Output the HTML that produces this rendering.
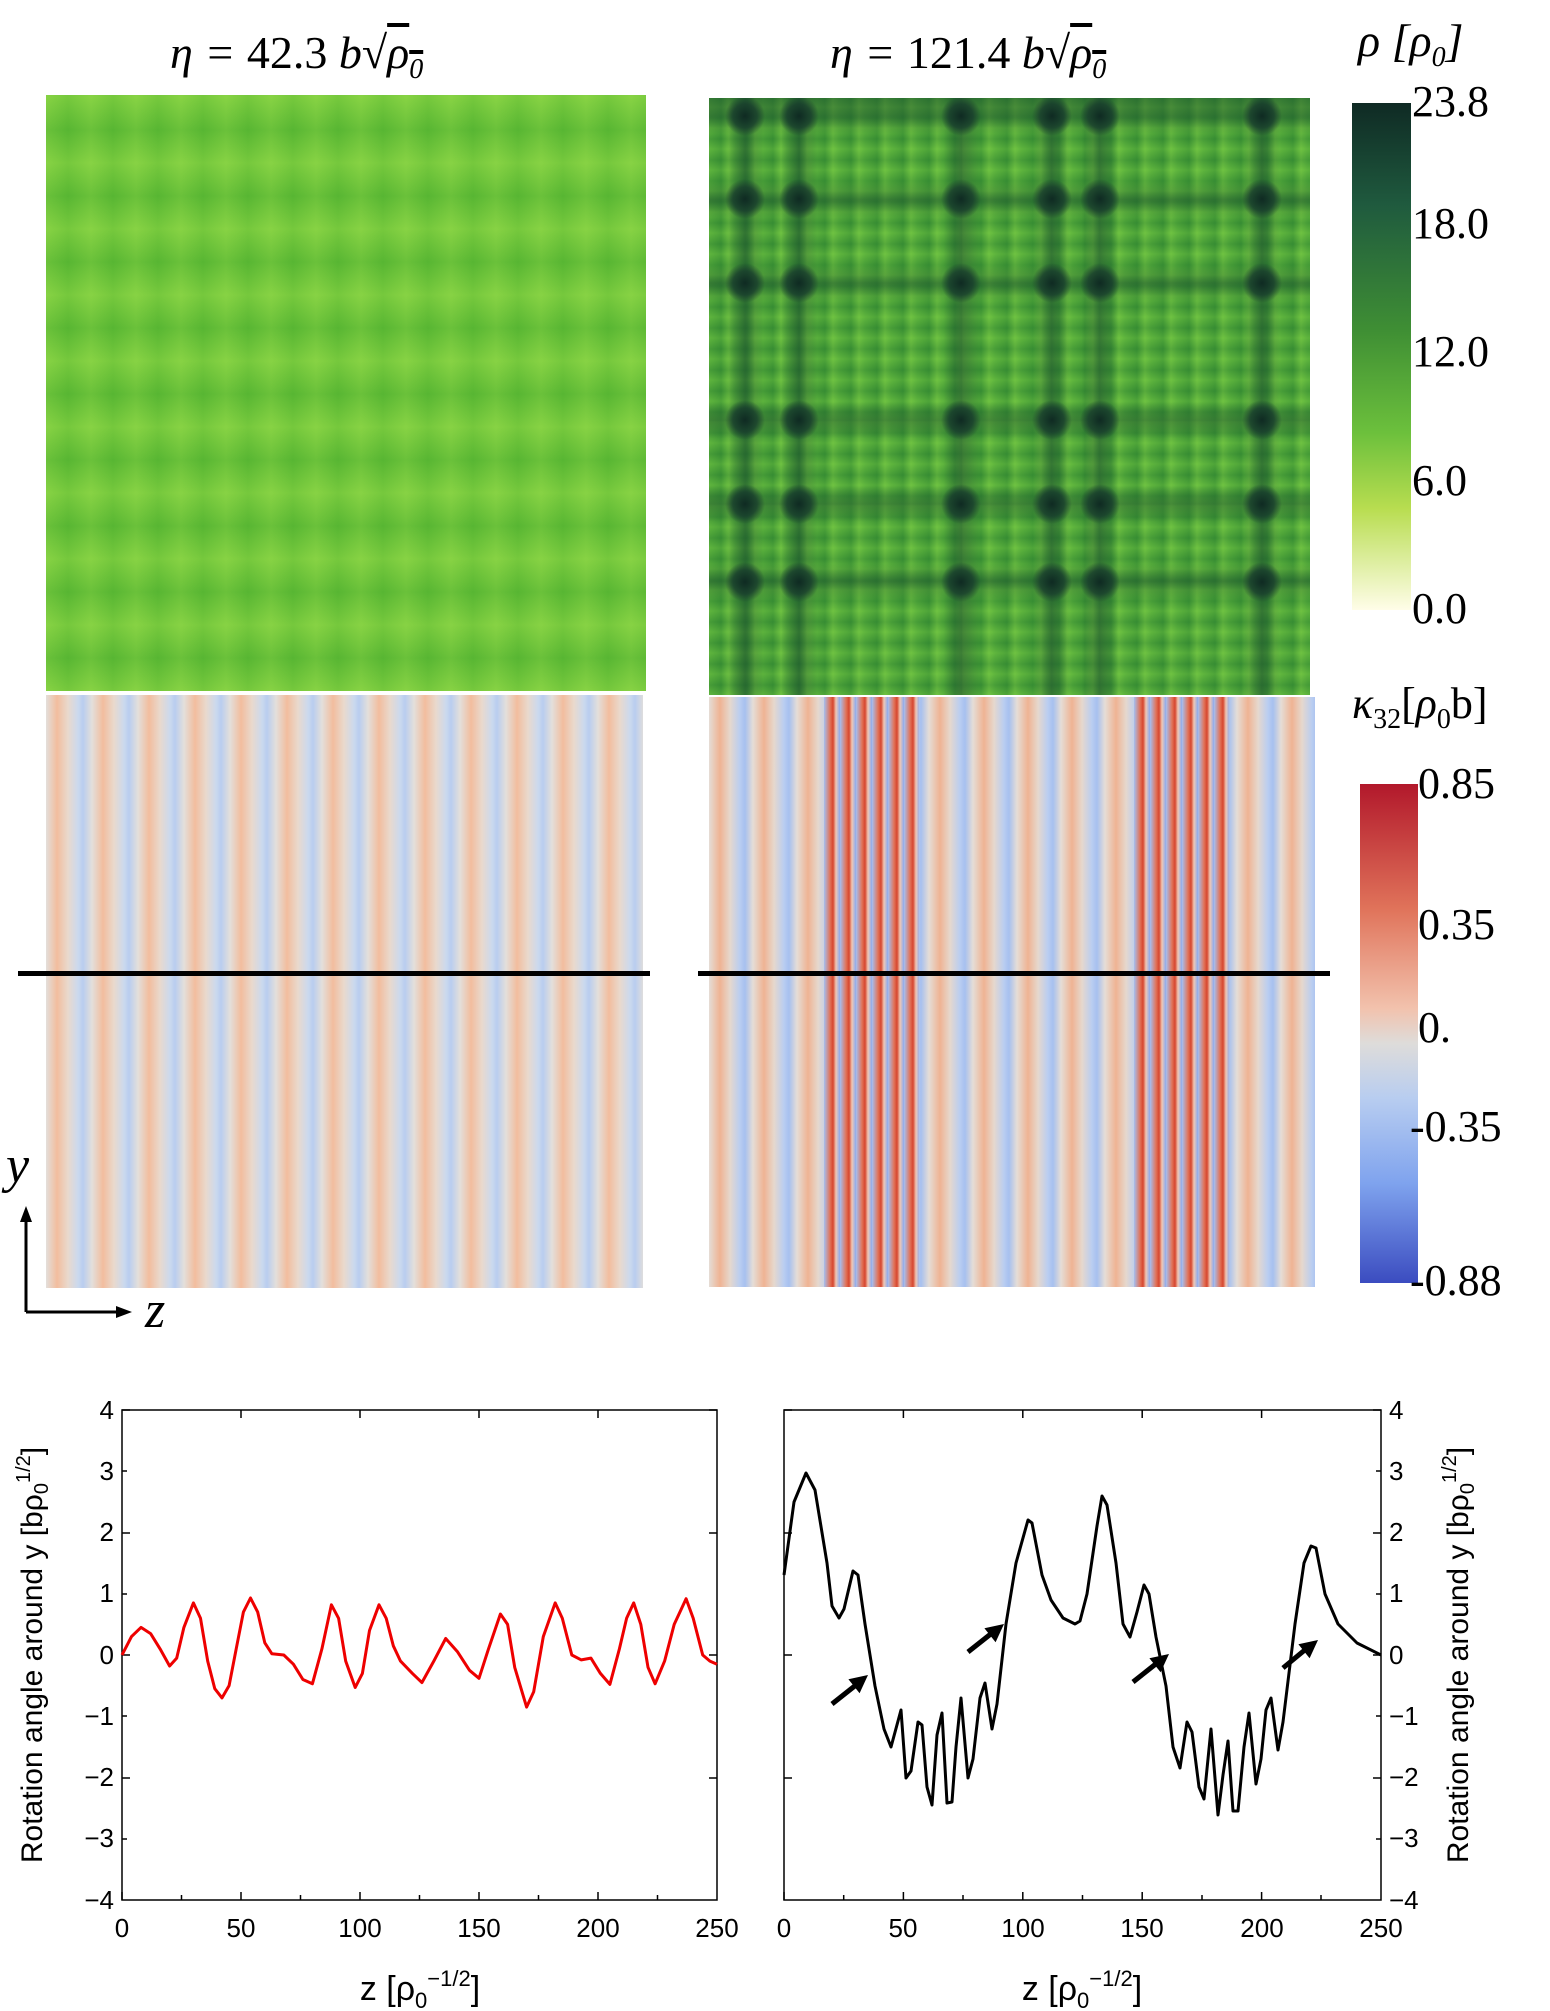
<!DOCTYPE html>
<html><head><meta charset="utf-8"><style>
body{margin:0;width:1550px;height:2011px;background:#fff;position:relative;overflow:hidden;font-family:"Liberation Serif",serif}
.a{position:absolute}
.t{position:absolute;font-size:44px;line-height:1;white-space:nowrap}
</style></head><body>
<div class="t" style="left:170px;top:30px;font-style:italic;font-size:46px">η = <span style="font-style:normal">42.3</span> b√<span style="text-decoration:overline">ρ<sub style="font-size:28px">0</sub></span></div>
<div class="t" style="left:830px;top:30px;font-style:italic;font-size:46px">η = <span style="font-style:normal">121.4</span> b√<span style="text-decoration:overline">ρ<sub style="font-size:28px">0</sub></span></div>

<!-- left density -->
<div class="a" style="left:46px;top:95px;width:600px;height:596px;background:repeating-linear-gradient(90deg,#7acb40 0,#5fbb35 22px,#7acb40 45px);"></div>
<div class="a" style="left:46px;top:95px;width:600px;height:596px;background:repeating-linear-gradient(0deg,rgba(160,225,75,.35) 0,rgba(70,170,45,.3) 33px,rgba(160,225,75,.35) 66px);"></div>

<!-- right density -->
<div class="a" style="left:709px;top:98px;width:601px;height:597px;background:repeating-linear-gradient(90deg,#55ad3a 0,#3c9533 12px,#6cc040 20px,#55ad3a 26px);overflow:hidden">
<div class="a" style="left:0;top:0;width:601px;height:597px;background:repeating-linear-gradient(0deg,rgba(120,200,70,.3) 0,rgba(40,120,50,.3) 10px,rgba(120,200,70,.3) 21px)"></div>
<div class="a" style="left:0;top:0;width:601px;height:597px;background:linear-gradient(90deg,transparent 3%,rgba(25,75,45,.55) 6%,transparent 9%,transparent 12%,rgba(25,75,45,.55) 15%,transparent 18%,transparent 39%,rgba(25,75,45,.55) 42%,transparent 45%,transparent 54%,rgba(25,75,45,.55) 57%,transparent 60%,transparent 62%,rgba(25,75,45,.55) 65%,transparent 68%,transparent 89%,rgba(25,75,45,.55) 92%,transparent 95%)"></div>
<div class="a" style="left:0;top:0;width:601px;height:597px;background:linear-gradient(180deg,rgba(25,75,45,.45) 3%,transparent 6%,transparent 14%,rgba(25,75,45,.45) 17%,transparent 20%,transparent 28%,rgba(25,75,45,.45) 31%,transparent 34%,transparent 51%,rgba(25,75,45,.45) 54%,transparent 57%,transparent 65%,rgba(25,75,45,.45) 68%,transparent 71%,transparent 78%,rgba(25,75,45,.45) 81%,transparent 84%)"></div>
<svg class="a" style="left:0;top:0" width="601" height="597"><defs><radialGradient id="d"><stop offset="0" stop-color="#0f2a22"/><stop offset=".6" stop-color="#173b2c" stop-opacity=".8"/><stop offset="1" stop-color="#173b2c" stop-opacity="0"/></radialGradient></defs>
<g fill="url(#d)">
<circle cx="36" cy="18" r="20"/><circle cx="90" cy="18" r="20"/><circle cx="252" cy="18" r="20"/><circle cx="343" cy="18" r="20"/><circle cx="391" cy="18" r="20"/><circle cx="553" cy="18" r="20"/>
<circle cx="36" cy="101" r="20"/><circle cx="90" cy="101" r="20"/><circle cx="252" cy="101" r="20"/><circle cx="343" cy="101" r="20"/><circle cx="391" cy="101" r="20"/><circle cx="553" cy="101" r="20"/>
<circle cx="36" cy="185" r="20"/><circle cx="90" cy="185" r="20"/><circle cx="252" cy="185" r="20"/><circle cx="343" cy="185" r="20"/><circle cx="391" cy="185" r="20"/><circle cx="553" cy="185" r="20"/>
<circle cx="36" cy="322" r="20"/><circle cx="90" cy="322" r="20"/><circle cx="252" cy="322" r="20"/><circle cx="343" cy="322" r="20"/><circle cx="391" cy="322" r="20"/><circle cx="553" cy="322" r="20"/>
<circle cx="36" cy="406" r="20"/><circle cx="90" cy="406" r="20"/><circle cx="252" cy="406" r="20"/><circle cx="343" cy="406" r="20"/><circle cx="391" cy="406" r="20"/><circle cx="553" cy="406" r="20"/>
<circle cx="36" cy="484" r="20"/><circle cx="90" cy="484" r="20"/><circle cx="252" cy="484" r="20"/><circle cx="343" cy="484" r="20"/><circle cx="391" cy="484" r="20"/><circle cx="553" cy="484" r="20"/>
</g></svg>
</div>

<!-- left kappa -->
<div class="a" style="left:46px;top:695px;width:597px;height:593px;background:repeating-linear-gradient(90deg,#e3dfdb 0,#f2bd9e 11px,#e9d9cd 22px,#cbd9ee 32px,#b9cdef 37px,#e3dfdb 46px)"></div>
<!-- right kappa -->
<div class="a" style="left:709px;top:697px;width:606px;height:590px;background:repeating-linear-gradient(90deg,#e5ddd6 0,#efb393 11px,#e6d8cd 21px,#b9cdf1 31px,#a7c0ef 36px,#e5ddd6 44px)">
<div class="a" style="left:115px;top:0;width:95px;height:590px;background:repeating-linear-gradient(90deg,#a5bef0 0,#e1745a 6px,#d6452e 9px,#f0c8b4 12px,#8aaaf0 16px)"></div>
<div class="a" style="left:425px;top:0;width:95px;height:590px;background:repeating-linear-gradient(90deg,#a5bef0 0,#e1745a 6px,#d6452e 9px,#f0c8b4 12px,#8aaaf0 16px)"></div>
</div>
<div class="a" style="left:18px;top:971px;width:632px;height:5px;background:#000"></div>
<div class="a" style="left:698px;top:971px;width:632px;height:5px;background:#000"></div>

<!-- colorbars -->
<div class="t" style="left:1358px;top:18px;font-style:italic;font-size:46px">ρ [ρ<sub style="font-size:28px">0</sub>]</div>
<div class="a" style="left:1352px;top:103px;width:59px;height:507px;background:linear-gradient(180deg,#0f2a24 0%,#1f5a3e 20%,#3f8f34 45%,#6cc03c 65%,#b8dd50 80%,#fffde8 100%)"></div>
<div class="t" style="left:1412px;top:80px">23.8</div>
<div class="t" style="left:1412px;top:202px">18.0</div>
<div class="t" style="left:1412px;top:330px">12.0</div>
<div class="t" style="left:1412px;top:459px">6.0</div>
<div class="t" style="left:1412px;top:587px">0.0</div>
<div class="t" style="left:1352px;top:682px;font-size:44px"><i>κ</i><sub style="font-size:28px">32</sub>[<i>ρ</i><sub style="font-size:28px">0</sub>b]</div>
<div class="a" style="left:1360px;top:784px;width:58px;height:499px;background:linear-gradient(180deg,#b2182b 0%,#e0735a 25%,#f2c2ad 45%,#dedcda 52%,#b8cdf0 63%,#7fa3ee 80%,#3b4cc0 100%)"></div>
<div class="t" style="left:1418px;top:762px">0.85</div>
<div class="t" style="left:1418px;top:903px">0.35</div>
<div class="t" style="left:1418px;top:1006px">0.</div>
<div class="t" style="left:1410px;top:1105px">-0.35</div>
<div class="t" style="left:1410px;top:1259px">-0.88</div>

<div class="t" style="left:6px;top:1140px;font-style:italic;font-size:52px">y</div>
<div class="t" style="left:145px;top:1285px;font-style:italic;font-size:52px">z</div>
<svg class="a" style="left:0;top:0" width="1550" height="2011">
<path d="M26,1312V1220M26,1312H118" stroke="#000" stroke-width="3" fill="none"/>
<polygon points="26,1206 20,1222 32,1222"/>
<polygon points="132,1312 116,1306 116,1318"/>

<g font-family="Liberation Sans,sans-serif" font-size="26" fill="#000">
<rect x="122" y="1410" width="595" height="490" fill="none" stroke="#000" stroke-width="1.5"/>
<g stroke="#000" stroke-width="1.5">
<path d="M122,1410h8M122,1471h5M122,1533h8M122,1594h5M122,1655h8M122,1716h5M122,1778h8M122,1839h5M717,1410h-8M717,1533h-8M717,1655h-8M717,1778h-8"/>
<path d="M122,1900v-8M181.5,1900v-5M241,1900v-8M300.5,1900v-5M360,1900v-8M419.5,1900v-5M479,1900v-8M538.5,1900v-5M598,1900v-8M657.5,1900v-5M241,1410v8M360,1410v8M479,1410v8M598,1410v8"/>
<path d="M784,1410h8M784,1533h8M784,1655h8M784,1778h8M1381,1410h-8M1381,1471h-5M1381,1533h-8M1381,1594h-5M1381,1655h-8M1381,1716h-5M1381,1778h-8M1381,1839h-5"/>
<path d="M784,1900v-8M843.7,1900v-5M903.4,1900v-8M963,1900v-5M1022.8,1900v-8M1082.5,1900v-5M1142.2,1900v-8M1202,1900v-5M1261.6,1900v-8M1321,1900v-5M903.4,1410v8M1022.8,1410v8M1142.2,1410v8M1261.6,1410v8"/>
</g>
<g text-anchor="end">
<text x="114" y="1419">4</text><text x="114" y="1480">3</text><text x="114" y="1541">2</text><text x="114" y="1602">1</text><text x="114" y="1664">0</text><text x="114" y="1725">−1</text><text x="114" y="1786">−2</text><text x="114" y="1847">−3</text><text x="114" y="1909">−4</text>
</g>
<g text-anchor="middle">
<text x="122" y="1937">0</text><text x="241" y="1937">50</text><text x="360" y="1937">100</text><text x="479" y="1937">150</text><text x="598" y="1937">200</text><text x="717" y="1937">250</text>
<text x="784" y="1937">0</text><text x="903" y="1937">50</text><text x="1023" y="1937">100</text><text x="1142" y="1937">150</text><text x="1262" y="1937">200</text><text x="1381" y="1937">250</text>
</g>
<rect x="784" y="1410" width="597" height="490" fill="none" stroke="#000" stroke-width="1.5"/>
<g>
<text x="1389" y="1419">4</text><text x="1389" y="1480">3</text><text x="1389" y="1541">2</text><text x="1389" y="1602">1</text><text x="1389" y="1664">0</text><text x="1389" y="1725">−1</text><text x="1389" y="1786">−2</text><text x="1389" y="1847">−3</text><text x="1389" y="1909">−4</text>
</g>
<text x="420" y="2000" text-anchor="middle" font-size="34">z [ρ<tspan font-size="22" dy="8">0</tspan><tspan font-size="22" dy="-22">−1/2</tspan><tspan dy="14">]</tspan></text>
<text x="1082" y="2000" text-anchor="middle" font-size="34">z [ρ<tspan font-size="22" dy="8">0</tspan><tspan font-size="22" dy="-22">−1/2</tspan><tspan dy="14">]</tspan></text>
<text transform="translate(42,1655) rotate(-90)" text-anchor="middle" font-size="30">Rotation angle around y [bρ<tspan font-size="20" dy="6">0</tspan><tspan font-size="20" dy="-18">1/2</tspan><tspan dy="12">]</tspan></text>
<text transform="translate(1468,1655) rotate(-90)" text-anchor="middle" font-size="30">Rotation angle around y [bρ<tspan font-size="20" dy="6">0</tspan><tspan font-size="20" dy="-18">1/2</tspan><tspan dy="12">]</tspan></text>
</g>

<polyline fill="none" stroke="#e00" stroke-width="3" stroke-linejoin="round" points="122,1655 131.5,1636.6 141,1627.4 150.6,1633.6 160.1,1648.9 169.6,1666 176.7,1658.1 183.9,1627.4 193.4,1602.9 200.5,1618.3 207.7,1661.1 214.8,1688.7 222,1697.9 229.1,1685.6 236.2,1648.9 243.4,1612.1 250.5,1598 257.7,1612.1 264.8,1642.8 271.9,1653.8 283.8,1655 293.4,1664.2 302.9,1679.5 312.4,1683.8 321.9,1648.9 331.4,1604.8 338.6,1618.3 345.7,1661.1 355.2,1687.5 362.4,1673.4 369.5,1630.5 379,1604.8 386.2,1618.3 393.3,1645.8 400.5,1661.1 412.4,1673.4 421.9,1682.6 433.8,1661.1 445.7,1638.5 457.6,1651.9 469.5,1670.3 479,1678.3 488.5,1648.9 500.4,1614 507.6,1624.4 514.7,1667.3 526.6,1707.1 533.7,1691.8 543.3,1636.6 555.2,1602.9 562.3,1618.3 571.8,1655 581.3,1659.9 590.9,1658.1 600.4,1673.4 609.9,1684.4 619.4,1648.9 626.6,1618.3 633.7,1602.9 640.8,1624.4 648,1667.3 655.1,1683.8 664.6,1661.1 674.2,1624.4 686.1,1598.7 693.2,1618.3 702.7,1655 709.9,1661.1 717,1664.2"/>
<polyline fill="none" stroke="#000" stroke-width="3" stroke-linejoin="round" points="784,1575 794,1502 806,1473 815,1490 827,1563 832,1606 839,1618 844,1609 853,1571 858,1575 865,1624 875,1686 884,1729 891,1747 901,1710 906,1778 911,1771 918,1722 922,1725 927,1787 932,1805 937,1735 942,1713 947,1803 952,1802 956,1747 961,1698 968,1778 973,1759 980,1698 985,1683 992,1729 997,1704 1006,1624 1016,1563 1028,1520 1032,1523 1042,1575 1051,1600 1063,1618 1075,1624 1080,1621 1087,1594 1097,1526 1102,1496 1107,1505 1116,1563 1123,1624 1130,1637 1137,1612 1144,1585 1149,1594 1156,1637 1166,1686 1173,1747 1180,1768 1187,1722 1192,1732 1199,1787 1204,1799 1211,1729 1218,1815 1223,1775 1228,1741 1233,1811 1238,1811 1244,1747 1249,1713 1256,1784 1261,1759 1266,1710 1271,1698 1278,1750 1283,1722 1295,1624 1304,1563 1311,1546 1316,1548 1325,1594 1338,1624 1357,1643 1381,1655"/>
<g stroke="#000" stroke-width="5">
<line x1="832" y1="1704" x2="856" y2="1685"/>
<line x1="968" y1="1652" x2="992" y2="1633"/>
<line x1="1133" y1="1682" x2="1157" y2="1663"/>
<line x1="1283" y1="1668" x2="1306" y2="1649"/>
</g>
<g fill="#000">
<polygon points="868,1675 859.6,1693.3 848.4,1679.3"/>
<polygon points="1004,1624 995.6,1642.3 984.4,1628.3"/>
<polygon points="1169,1654 1160.6,1672.3 1149.4,1658.3"/>
<polygon points="1318,1640 1309.6,1658.3 1298.4,1644.3"/>
</g>
</svg>
</body></html>
